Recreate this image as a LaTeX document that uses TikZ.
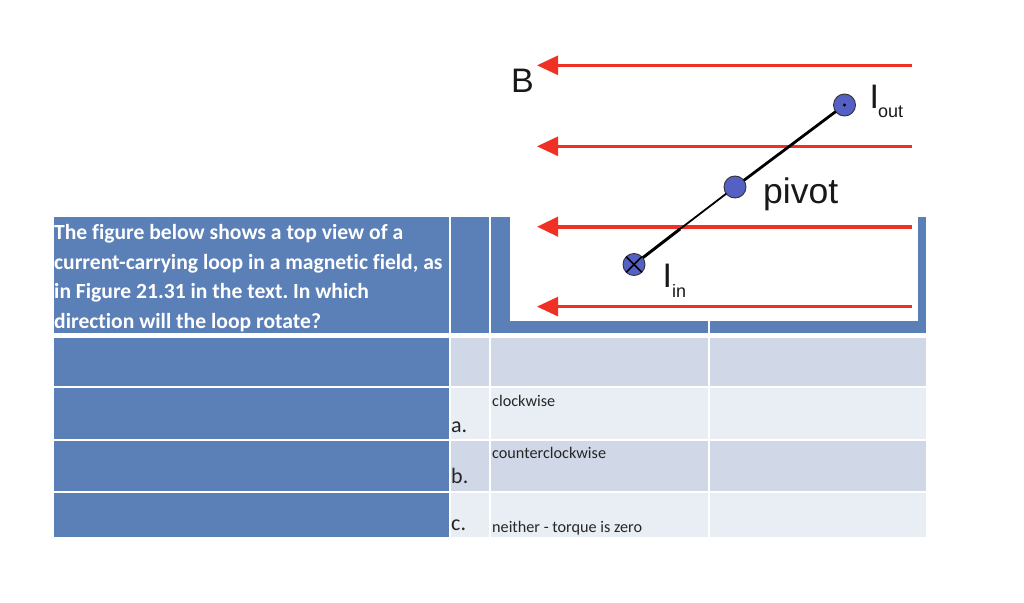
\documentclass[tikz,border=0pt]{standalone}
\usepackage{fontspec}
\setmainfont[Ligatures=NoCommon]{Carlito}
\newfontfamily\figfont{Liberation Sans}
\usetikzlibrary{arrows.meta}
\definecolor{hdrblue}{HTML}{5B80B8}
\definecolor{rowmid}{HTML}{D0D8E8}
\definecolor{rowpale}{HTML}{E9EDF4}
\definecolor{fieldred}{HTML}{EE3124}
\definecolor{dotblue}{HTML}{5560C4}
\frenchspacing
\tikzset{
  cell/.style={anchor=north west,inner sep=0pt,outer sep=0pt,minimum width=#1,draw=none},
  hdrtext/.style={anchor=base west,inner sep=0pt,text=white,font=\fontsize{21.6}{24}\selectfont\bfseries},
  opttext/.style={anchor=base west,inner sep=0pt,text=black!85,font=\fontsize{16.2}{18}\selectfont},
  lettertext/.style={anchor=base west,inner sep=0pt,text=black!85,font=\fontsize{22}{24}\selectfont},
  figtext/.style={anchor=base west,inner sep=0pt,text=black!90,font=\fontsize{#1}{#1}\figfont},
  field/.style={draw=fieldred,line width=#1,{Triangle[length=21pt,width=19pt,fill=fieldred]}-},
  dot/.style={circle,fill=dotblue,draw=black!80,line width=0.9pt,minimum size=22pt,inner sep=0pt,outer sep=0pt},
}
\begin{document}
\begin{tikzpicture}[x=1pt,y=-1pt]
\useasboundingbox (0,0) rectangle (1024,602);
\fill[white] (0,0) rectangle (1024,602);
% header row
\node[cell=394.5pt,minimum height=116pt,fill=hdrblue] (h1) at (54,217) {};
\node[cell=38pt,minimum height=116pt,fill=hdrblue] (h2) at (451,217) {};
\node[cell=216.5pt,minimum height=116pt,fill=hdrblue] (h3) at (491,217) {};
\node[cell=216.5pt,minimum height=116pt,fill=hdrblue] (h4) at (709.5,217) {};
% row 1
\node[cell=394.5pt,minimum height=48pt,fill=hdrblue] (r1a) at (54,338) {};
\node[cell=38pt,minimum height=48pt,fill=rowmid] (r1b) at (451,338) {};
\node[cell=216.5pt,minimum height=48pt,fill=rowmid] (r1c) at (491,338) {};
\node[cell=216.5pt,minimum height=48pt,fill=rowmid] (r1d) at (709.5,338) {};
% row 2
\node[cell=394.5pt,minimum height=51pt,fill=hdrblue] (r2a) at (54,388) {};
\node[cell=38pt,minimum height=51pt,fill=rowpale] (r2b) at (451,388) {};
\node[cell=216.5pt,minimum height=51pt,fill=rowpale] (r2c) at (491,388) {};
\node[cell=216.5pt,minimum height=51pt,fill=rowpale] (r2d) at (709.5,388) {};
% row 3
\node[cell=394.5pt,minimum height=50pt,fill=hdrblue] (r3a) at (54,441) {};
\node[cell=38pt,minimum height=50pt,fill=rowmid] (r3b) at (451,441) {};
\node[cell=216.5pt,minimum height=50pt,fill=rowmid] (r3c) at (491,441) {};
\node[cell=216.5pt,minimum height=50pt,fill=rowmid] (r3d) at (709.5,441) {};
% row 4
\node[cell=394.5pt,minimum height=44pt,fill=hdrblue] (r4a) at (54,493) {};
\node[cell=38pt,minimum height=44pt,fill=rowpale] (r4b) at (451,493) {};
\node[cell=216.5pt,minimum height=44pt,fill=rowpale] (r4c) at (491,493) {};
\node[cell=216.5pt,minimum height=44pt,fill=rowpale] (r4d) at (709.5,493) {};
% header text
\node[hdrtext] (t1) at (54,239) {The figure below shows a top view of a};
\node[hdrtext] (t2) at (54,269) {current-carrying loop in a magnetic field, as};
\node[hdrtext] (t3) at (54,298.5) {in Figure 21.31 in the text. In which};
\node[hdrtext] (t4) at (54,328) {direction will the loop rotate?};
% options
\node[lettertext] (la) at (451,432) {a.};
\node[lettertext] (lb) at (451,483) {b.};
\node[lettertext] (lc) at (451,530) {c.};
\node[opttext] (oa) at (492,406) {clockwise};
\node[opttext] (ob) at (492,458.5) {counterclockwise};
\node[opttext] (oc) at (492,532) {neither - torque is zero};
% figure background
\node[cell=408pt,minimum height=104pt,fill=white] (figbg) at (510,217) {};
% field lines
\coordinate (a1l) at (537,65.3);  \coordinate (a1r) at (912,65.3);
\coordinate (a2l) at (537,146.3); \coordinate (a2r) at (912,146.3);
\coordinate (a3l) at (537,226.7); \coordinate (a3r) at (912,226.7);
\coordinate (a4l) at (537,306.6); \coordinate (a4r) at (912,306.6);
\draw[field=2.6pt] (a1l) -- (a1r);
\draw[field=2.6pt] (a2l) -- (a2r);
\draw[field=4pt] (a3l) -- (a3r);
\draw[field=2.6pt] (a4l) -- (a4r);
% loop
\node[dot] (iout) at (844.5,105) {};
\node[dot] (piv) at (735,187) {};
\node[dot] (iin) at (634,264.5) {};
\coordinate (midin) at (680,229);
\draw[black,line width=2.8pt] (iout) -- (piv);
\draw[black,line width=1.8pt] (piv) -- (midin);
\draw[black,line width=3pt] (midin) -- (iin);
\fill[black] (iout.center) circle (1.6pt);
\draw[black,line width=1.5pt] (iin.45) -- (iin.225) (iin.135) -- (iin.315);
% labels
\node[figtext=34] (lblB) at (511,92) {B};
\node[figtext=35.5] (lblpivot) at (763,203) {pivot};
\node[figtext=34] (lblIo) at (869.5,108) {I};
\node[figtext=18] (lblout) at (878,117) {out};
\node[figtext=34] (lblIi) at (662.5,287) {I};
\node[figtext=18] (lblin) at (672,297) {in};
\end{tikzpicture}
\end{document}
